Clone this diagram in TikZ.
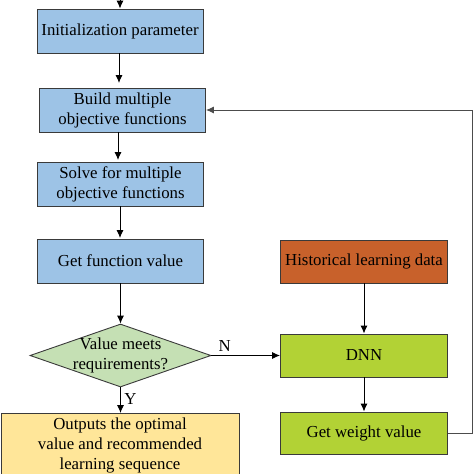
\documentclass[tikz,border=0pt]{standalone}
\usepackage{fontspec}
\setmainfont{Liberation Serif}
\usetikzlibrary{positioning, arrows.meta, shapes.geometric}
\definecolor{boxblue}{HTML}{9DC3E6}
\definecolor{diagreen}{HTML}{C5E0B4}
\definecolor{historange}{HTML}{C8612B}
\definecolor{dnngreen}{HTML}{B2D235}
\definecolor{outyellow}{HTML}{FFE699}
\definecolor{edge}{HTML}{3A3A3A}
\tikzstyle{blk}=[draw=edge, line width=0.9pt, minimum width=166pt, minimum height=44pt, align=center, font=\fontsize{16.8}{20}\selectfont, inner sep=1pt]
\tikzstyle{dec}=[draw=edge, line width=0.9pt, diamond, aspect=2.87, minimum width=181pt, minimum height=63pt, inner sep=-6pt, align=center, font=\fontsize{16.8}{20}\selectfont, fill=diagreen]
\tikzstyle{lab}=[font=\fontsize{16.8}{20}\selectfont]

\begin{document}
\begin{tikzpicture}[x=1pt,y=-1pt,>={Latex[length=8pt,width=7pt]},line width=0.9pt]
      \clip (0,0) rectangle (474,474);
      \useasboundingbox (0,0) rectangle (474,474);
      \node [blk, fill=boxblue] (init) at (120,31) {Initialization parameter};
      \node [coordinate] (start) at (120,0) {};
      \node [blk, fill=boxblue] (build) at (122.5,110) {Build multiple\\objective functions};
      \node [blk, fill=boxblue] (solve) at (120.5,184) {Solve for multiple\\objective functions};
      \node [blk, fill=boxblue] (getf) at (120.5,261) {Get function value};
      \node [dec] (meets) at (120.5,355.5) {Value meets\\requirements?};
      \node [blk, fill=outyellow, minimum width=238pt, minimum height=64pt, anchor=north] (out) at (120,413) {Outputs the optimal\\value and recommended\\learning sequence};
      \node [blk, fill=historange, minimum width=167pt, minimum height=43pt] (hist) at (364,261.5) {Historical learning data};
      \node [blk, fill=dnngreen, minimum width=167pt, minimum height=43pt] (dnn) at (364,355.5) {DNN};
      \node [blk, fill=dnngreen, minimum width=167pt, minimum height=42pt] (weight) at (364,433) {Get weight value};
      \node [coordinate] (rb) at (472,433) {};
      \node [coordinate] (rt) at (472,110) {};
      \draw[->] (start) -- (init);
      \draw[->] (init.south -| 119,0) -- (119,83);
      \draw[->] (build.south -| 118,0) -- (118,160);
      \draw[->] (solve.south -| 120,0) -- (120,238);
      \draw[->] (getf) -- (meets);
      \draw[->] (meets) -- node [lab, right, pos=0.45] {Y} (meets |- out.north);
      \draw[->] (meets) -- node [lab, above right, pos=0.05] {N} (dnn);
      \draw[->] (hist) -- (dnn);
      \draw[->] (dnn) -- (weight);
      \draw[->, draw=black!70] (weight) -- (rb) -- (rt) -- (build);
  \end{tikzpicture}
\end{document}
